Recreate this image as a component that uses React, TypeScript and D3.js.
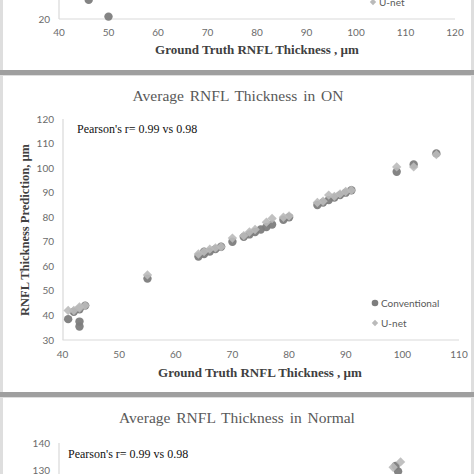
import React from "react";
import * as d3 from "d3";

// ---- data ----
// "Average RNFL Thickness in ON"
const onConvX = [41, 42, 43, 43, 43, 44, 55, 64, 65, 65, 66, 67, 68, 70, 72, 73, 74, 75, 76, 77, 79, 80, 85, 86, 87, 88, 89, 90, 91, 99, 102, 106];
const onConvY = [38.5, 41.5, 35.5, 37.5, 42.5, 44, 55, 64, 65, 66, 66, 67, 68, 70, 72, 73, 74, 75, 76, 77, 79, 80, 85, 86, 87, 88, 89, 90, 91, 98.5, 101.5, 106];
const onUnetX = [41, 42, 43, 43, 44, 55, 64, 65, 66, 67, 68, 70, 72, 73, 74, 76, 77, 79, 80, 85, 86, 87, 88, 89, 90, 91, 99, 102, 106];
const onUnetY = [42, 42, 43, 43.5, 44, 56.5, 65, 66, 67, 67.5, 68, 71.5, 72.5, 74, 75, 78, 79.5, 80, 80.5, 86, 86.5, 89, 88.5, 89.5, 90.5, 91, 100.5, 100.5, 105.5];
const onXTicks = [40, 50, 60, 70, 80, 90, 100, 110];
const onYTicks = [30, 40, 50, 60, 70, 80, 90, 100, 110, 120];

// previous chart (only its bottom edge is visible)
const prevConvX = [46, 50];
const prevConvY = [28, 21];
const prevXTicks = [40, 50, 60, 70, 80, 90, 100, 110, 120];
const prevYTicks = [20];

// "Average RNFL Thickness in Normal" (only its top edge is visible)
const normConvX = [108, 108.5];
const normConvY = [131.5, 129.5];
const normUnetX = [109, 107.5];
const normUnetY = [133, 131];
const normYTicks = [130, 140];

const pearsonText = "Pearson's r= 0.99 vs 0.98";
const xTitle = "Ground Truth RNFL Thickness , µm";
const yTitle = "RNFL Thickness Prediction, µm";

const serif = "'Liberation Serif', 'DejaVu Serif', serif";
const sans = "Lato, 'Open Sans', sans-serif";
const convColor = "#7d7d7d";
const unetColor = "#bababa";
const axisColor = "#d9d9d9";
const tickColor = "#6b6b6b";

// Excel style diamond: a square turned by 45 degrees
const diamond = d3.symbol(d3.symbolSquare, 44)() as string;
const smallDiamond = d3.symbol(d3.symbolSquare, 20)() as string;

type Scale = d3.ScaleLinear<number, number>;

const Points = ({ xs, ys, x, y, kind }: { xs: number[]; ys: number[]; x: Scale; y: Scale; kind: "conv" | "unet" }) => (
  <g>
    {xs.map((v, i) =>
      kind === "conv" ? (
        <circle key={i} cx={x(v)} cy={y(ys[i])} r={4.2} fill={convColor} opacity={0.95} />
      ) : (
        <path key={i} d={diamond} transform={`translate(${x(v)},${y(ys[i])}) rotate(45)`} fill={unetColor} opacity={0.9} />
      )
    )}
  </g>
);

const XAxis = ({ x, y0, ticks, labelY }: { x: Scale; y0: number; ticks: number[]; labelY: number }) => (
  <g>
    <line x1={x.range()[0]} x2={x.range()[1]} y1={y0} y2={y0} stroke={axisColor} strokeWidth={1.2} />
    {ticks.map((t) => (
      <text key={t} x={x(t)} y={labelY} textAnchor="middle" fontFamily={sans} fontSize={10} fill={tickColor}>
        {t}
      </text>
    ))}
  </g>
);

const YAxis = ({ y, x0, ticks, yTop, yBottom }: { y: Scale; x0: number; ticks: number[]; yTop: number; yBottom: number }) => (
  <g>
    <line x1={x0} x2={x0} y1={yTop} y2={yBottom} stroke={axisColor} strokeWidth={1.2} />
    {ticks.map((t) => (
      <text key={t} x={x0 - 9} y={y(t)} dy="0.35em" textAnchor="end" fontFamily={sans} fontSize={10} fill={tickColor}>
        {t}
      </text>
    ))}
  </g>
);

const Legend = ({ x, y }: { x: number; y: number }) => (
  <g fontFamily={sans} fontSize={10} fill="#595959">
    <circle cx={x} cy={y} r={3.3} fill={convColor} />
    <text x={x + 6} y={y} dy="0.35em">Conventional</text>
    <path d={smallDiamond} transform={`translate(${x},${y + 20}) rotate(45)`} fill={unetColor} />
    <text x={x + 6} y={y + 20} dy="0.35em">U-net</text>
  </g>
);

const App = () => {
  const W = 474;
  const H = 474;

  // previous panel scales
  const px = d3.scaleLinear().domain([40, 120]).range([59, 455]);
  const py = d3.scaleLinear().domain([20, 30]).range([19, -5]);

  // ON panel scales
  const ox = d3.scaleLinear().domain([40, 110]).range([62.5, 459]);
  const oy = d3.scaleLinear().domain([30, 120]).range([340, 119]);

  // Normal panel scales
  const nx = d3.scaleLinear().domain([40, 120]).range([59, 455]);
  const ny = d3.scaleLinear().domain([130, 140]).range([470, 443]);

  return (
    <svg width={W} height={H} style={{ position: "absolute", left: 0, top: 0, display: "block" }}>
      <rect x={0} y={0} width={W} height={H} fill="#dedede" />
      {/* panel frames */}
      <rect x={3} y={-10} width={468} height={80} fill="#fff" />
      <rect x={0} y={70} width={W} height={5} fill="#9f9f9f" />
      <rect x={3} y={76} width={468} height={316} fill="#fff" />
      <rect x={0} y={392} width={W} height={5} fill="#9f9f9f" />
      <rect x={3} y={398} width={468} height={90} fill="#fff" />

      {/* previous panel (bottom part) */}
      <g>
        <line x1={59} x2={59} y1={-5} y2={19} stroke={axisColor} strokeWidth={1.2} />
        <XAxis x={px} y0={19} ticks={prevXTicks} labelY={35.5} />
        {prevYTicks.map((t) => (
          <text key={t} x={50} y={py(t)} dy="0.35em" textAnchor="end" fontFamily={sans} fontSize={10} fill={tickColor}>
            {t}
          </text>
        ))}
        <Points xs={prevConvX} ys={prevConvY} x={px} y={py} kind="conv" />
        <Legend x={373} y={-18} />
        <text x={257} y={53.5} textAnchor="middle" fontFamily={serif} fontWeight="bold" fontSize={13} fill="#404040">
          {xTitle}
        </text>
      </g>

      {/* ON panel */}
      <g>
        <text x={238} y={101} textAnchor="middle" fontFamily={serif} fontSize={15.5} fill="#595959" wordSpacing={2}>
          Average RNFL Thickness in ON
        </text>
        <YAxis y={oy} x0={63} ticks={onYTicks} yTop={119} yBottom={340} />
        <XAxis x={ox} y0={340} ticks={onXTicks} labelY={357.5} />
        <text x={77} y={133} fontFamily={serif} fontSize={12} fill="#111">
          {pearsonText}
        </text>
        <Points xs={onConvX} ys={onConvY} x={ox} y={oy} kind="conv" />
        <Points xs={onUnetX} ys={onUnetY} x={ox} y={oy} kind="unet" />
        <Legend x={375} y={303} />
        <text x={260} y={376.5} textAnchor="middle" fontFamily={serif} fontWeight="bold" fontSize={13} fill="#404040">
          {xTitle}
        </text>
        <text
          transform="translate(29,230) rotate(-90)"
          textAnchor="middle"
          fontFamily={serif}
          fontWeight="bold"
          fontSize={12.5}
          fill="#404040"
        >
          {yTitle}
        </text>
      </g>

      {/* Normal panel (top part) */}
      <g>
        <text x={237} y={423} textAnchor="middle" fontFamily={serif} fontSize={15.5} fill="#595959" wordSpacing={2}>
          Average RNFL Thickness in Normal
        </text>
        <YAxis y={ny} x0={59} ticks={normYTicks} yTop={443} yBottom={H + 10} />
        <text x={68} y={458} fontFamily={serif} fontSize={12} fill="#111">
          {pearsonText}
        </text>
        <Points xs={normConvX} ys={normConvY} x={nx} y={ny} kind="conv" />
        <Points xs={normUnetX} ys={normUnetY} x={nx} y={ny} kind="unet" />
        <text
          transform="translate(25,562) rotate(-90)"
          textAnchor="middle"
          fontFamily={serif}
          fontWeight="bold"
          fontSize={12.5}
          fill="#404040"
        >
          {yTitle}
        </text>
      </g>
    </svg>
  );
};

export default App;
